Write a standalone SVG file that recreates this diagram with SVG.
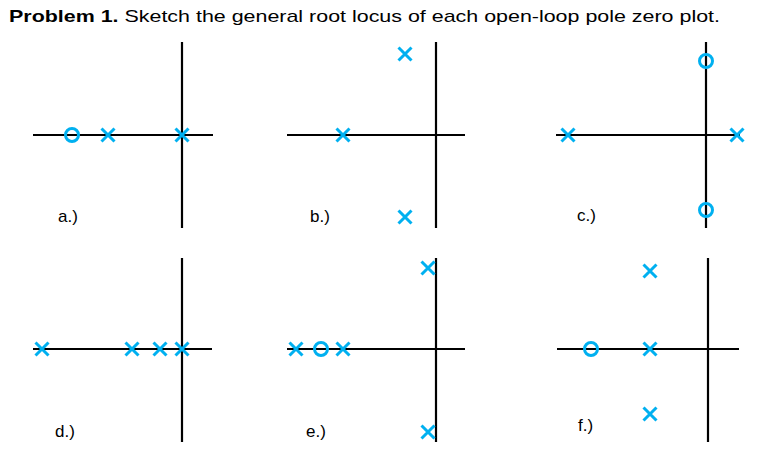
<svg xmlns="http://www.w3.org/2000/svg" width="779" height="462" viewBox="0 0 779 462">
<defs>
<style>
.ax{stroke:#000;stroke-width:2.2;fill:none}
.p{stroke:#00B0F0;stroke-width:3;fill:none}
.t{font-family:"Liberation Sans",Arial,sans-serif;font-size:17px;fill:#000}
</style>
<g id="X"><path class="p" d="M-6.5,-6.5L6.5,6.5M-6.5,6.5L6.5,-6.5"/></g>
<g id="O"><circle class="p" r="6.5"/></g>
</defs>
<rect width="779" height="462" fill="#fff"/>
<text class="t" x="9" y="22" font-size="18" textLength="711" lengthAdjust="spacingAndGlyphs"><tspan font-weight="bold">Problem 1.</tspan> Sketch the general root locus of each open-loop pole zero plot.</text>
<g id="axes">
<path class="ax" d="M33,135H213M182,42V228"/>
<path class="ax" d="M287,135H465M436,42V228"/>
<path class="ax" d="M556,135H740M706,42V228"/>
<path class="ax" d="M33,349H212M182,258V442"/>
<path class="ax" d="M287,349H465M436,258V442"/>
<path class="ax" d="M557,349H739M708,258V442"/>
</g>
<g id="a"><use href="#O" x="72" y="135"/><use href="#X" x="108" y="135"/><use href="#X" x="182" y="135"/><text class="t" x="58" y="222">a.)</text></g>
<g id="b"><use href="#X" x="343" y="135"/><use href="#X" x="405" y="54"/><use href="#X" x="405" y="217"/><text class="t" x="310" y="222">b.)</text></g>
<g id="c"><use href="#O" x="706" y="61"/><use href="#O" x="706" y="210"/><use href="#X" x="568" y="135"/><use href="#X" x="737" y="135"/><text class="t" x="577" y="221">c.)</text></g>
<g id="d"><use href="#X" x="42" y="349"/><use href="#X" x="132" y="349"/><use href="#X" x="160" y="349"/><use href="#X" x="182" y="349"/><text class="t" x="55" y="437">d.)</text></g>
<g id="e"><use href="#X" x="296" y="349"/><use href="#O" x="321" y="349"/><use href="#X" x="343" y="349"/><use href="#X" x="428" y="268"/><use href="#X" x="428" y="432"/><text class="t" x="306" y="437">e.)</text></g>
<g id="f"><use href="#O" x="591" y="349"/><use href="#X" x="650" y="349"/><use href="#X" x="650" y="271"/><use href="#X" x="650" y="414"/><text class="t" x="578" y="431">f.)</text></g>
</svg>
